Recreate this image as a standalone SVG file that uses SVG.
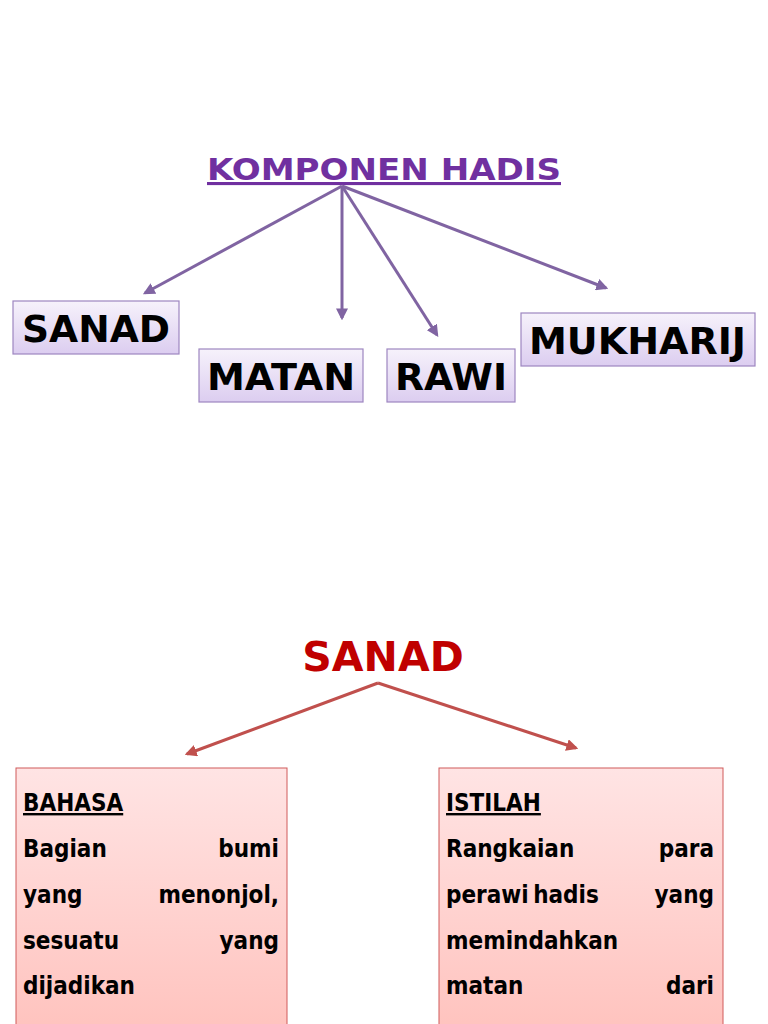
<svg xmlns="http://www.w3.org/2000/svg" width="768" height="1024" viewBox="0 0 768 1024">
<defs>
<linearGradient id="gp" x1="0" y1="0" x2="0" y2="1"><stop offset="0" stop-color="#f6f2fb"/><stop offset="1" stop-color="#dccdf0"/></linearGradient>
<linearGradient id="gr" x1="0" y1="0" x2="0" y2="1"><stop offset="0" stop-color="#ffe4e4"/><stop offset="1" stop-color="#ffc2bd"/></linearGradient>
<marker id="ap" viewBox="0 0 10 10" refX="8" refY="5" markerWidth="4" markerHeight="4" orient="auto"><path d="M0,0 L10,5 L0,10 z" fill="#8064a2"/></marker>
<marker id="ar" viewBox="0 0 10 10" refX="8" refY="5" markerWidth="4" markerHeight="4" orient="auto"><path d="M0,0 L10,5 L0,10 z" fill="#c0504d"/></marker>
</defs>
<style>
.pb{fill:url(#gp);stroke:#9d86c0;stroke-width:1.2}
.rb{fill:url(#gr);stroke:#d05a5a;stroke-width:1}
.bt{font-family:"DejaVu Sans Condensed","DejaVu Sans",sans-serif;font-weight:bold;font-size:38px;fill:#000}
.t{font-family:"DejaVu Sans Condensed","DejaVu Sans",sans-serif;font-weight:bold;font-size:24px;fill:#000}
.pl{stroke:#8064a2;stroke-width:3;fill:none;marker-end:url(#ap)}
.rl{stroke:#c0504d;stroke-width:3;fill:none;marker-end:url(#ar)}
</style>
<g id="title"><text x="207" y="180" textLength="354" lengthAdjust="spacingAndGlyphs" font-family="DejaVu Sans Condensed,DejaVu Sans,sans-serif" font-weight="bold" font-size="31" fill="#7030a0" text-decoration="underline">KOMPONEN HADIS</text></g>
<g id="connectors">
<line class="pl" x1="342" y1="186" x2="145" y2="293"/>
<line class="pl" x1="342" y1="186" x2="342" y2="318"/>
<line class="pl" x1="342" y1="186" x2="437" y2="335"/>
<line class="pl" x1="342" y1="186" x2="606" y2="288"/>
<line class="rl" x1="378" y1="683" x2="187" y2="754"/>
<line class="rl" x1="378" y1="683" x2="576" y2="748"/>
</g>
<g id="sanad"><rect class="pb" x="13" y="301" width="166" height="53"/><text class="bt" x="22" y="342" textLength="148" lengthAdjust="spacingAndGlyphs">SANAD</text></g>
<g id="matan"><rect class="pb" x="199" y="349" width="164" height="53"/><text class="bt" x="207" y="390" textLength="148" lengthAdjust="spacingAndGlyphs">MATAN</text></g>
<g id="rawi"><rect class="pb" x="387" y="349" width="128" height="53"/><text class="bt" x="395" y="390" textLength="112" lengthAdjust="spacingAndGlyphs">RAWI</text></g>
<g id="mukharij"><rect class="pb" x="521" y="313" width="234" height="53"/><text class="bt" x="529" y="354" textLength="217" lengthAdjust="spacingAndGlyphs">MUKHARIJ</text></g>
<g id="sanad2"><text x="383" y="671" text-anchor="middle" font-family="DejaVu Sans,sans-serif" font-weight="bold" font-size="41" fill="#c00000">SANAD</text></g>
<g id="bahasa"><rect class="rb" x="16" y="768" width="271" height="270"/>
<text class="t" x="23" y="811" text-decoration="underline">BAHASA</text>
<text class="t" x="23" y="857">Bagian</text><text class="t" x="279" y="857" text-anchor="end">bumi</text>
<text class="t" x="23" y="903">yang</text><text class="t" x="279" y="903" text-anchor="end">menonjol,</text>
<text class="t" x="23" y="949">sesuatu</text><text class="t" x="279" y="949" text-anchor="end">yang</text>
<text class="t" x="23" y="994">dijadikan</text>
</g>
<g id="istilah"><rect class="rb" x="439" y="768" width="284" height="270"/>
<text class="t" x="446" y="811" text-decoration="underline">ISTILAH</text>
<text class="t" x="446" y="857">Rangkaian</text><text class="t" x="714" y="857" text-anchor="end">para</text>
<text class="t" x="446" y="903">perawi</text><text class="t" x="566" y="903" text-anchor="middle">hadis</text><text class="t" x="714" y="903" text-anchor="end">yang</text>
<text class="t" x="446" y="949">memindahkan</text>
<text class="t" x="446" y="994">matan</text><text class="t" x="714" y="994" text-anchor="end">dari</text>
</g>
</svg>
